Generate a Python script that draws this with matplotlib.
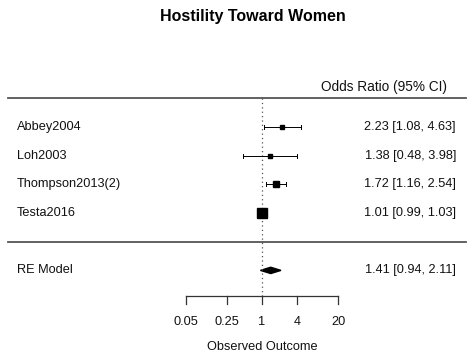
import numpy as np
import matplotlib.pyplot as plt

plt.rcParams['font.family'] = ['Liberation Sans', 'DejaVu Sans']

# study data (odds ratios with 95% CI)
studies = ['Abbey2004', 'Loh2003', 'Thompson2013(2)', 'Testa2016']
odds = [2.23, 1.38, 1.72, 1.01]
ci_lo = [1.08, 0.48, 1.16, 0.99]
ci_hi = [4.63, 3.98, 2.54, 1.03]
marker_sizes = [3.2, 2.2, 4.6, 6.6]   # weight-proportional squares

re_est, re_lo, re_hi = 1.41, 0.94, 2.11

tick_vals = [0.05, 0.25, 1, 4, 20]
tick_labels = ['0.05', '0.25', '1', '4', '20']

rows = [4, 3, 2, 1]
re_row = -1

fig = plt.figure(figsize=(4.74, 3.6), dpi=100)
ax = fig.add_axes([0, 0, 1, 1])
ax.set_xlim(-262 / 25.4, 212 / 25.4)
ax.set_ylim(1 - 147 / 28.7, 1 + 213 / 28.7)
ax.axis('off')

# x positions of text columns in data units (log odds)
x_left = (17 - 262) / 25.4
x_right = (456 - 262) / 25.4
x_line0 = (8 - 262) / 25.4
x_line1 = (466 - 262) / 25.4
axis_row = -1.89

fs = 9.2

# header / separator lines
ax.plot([x_line0, x_line1], [5, 5], color='#555555', lw=1.3)
ax.plot([x_line0, x_line1], [0, 0], color='#555555', lw=1.3)

# reference line at OR = 1
ax.plot([0, 0], [5, axis_row], color='#555555', lw=0.9, ls=(0, (1, 2.5)))

# studies
for name, r, o, lo, hi, ms in zip(studies, rows, odds, ci_lo, ci_hi, marker_sizes):
    ax.plot([np.log(lo), np.log(hi)], [r, r], color='black', lw=0.7)
    for e in (lo, hi):
        ax.plot([np.log(e), np.log(e)], [r - 0.07, r + 0.07], color='black', lw=0.7)
    ax.plot(np.log(o), r, marker='s', ms=ms, color='black', mec='black')
    ax.text(x_left, r, name, ha='left', va='center', fontsize=fs, color='#111111')
    ax.text(x_right, r, f'{o:.2f} [{lo:.2f}, {hi:.2f}]', ha='right', va='center',
            fontsize=fs, color='#111111')

# RE model diamond
dx = [np.log(re_lo), np.log(re_est), np.log(re_hi), np.log(re_est)]
dy = [re_row, re_row + 0.11, re_row, re_row - 0.11]
ax.fill(dx, dy, color='black')
ax.text(x_left, re_row, 'RE Model', ha='left', va='center', fontsize=fs, color='#111111')
ax.text(x_right, re_row, f'{re_est:.2f} [{re_lo:.2f}, {re_hi:.2f}]', ha='right',
        va='center', fontsize=fs, color='#111111')

# header text
ax.text((447 - 262) / 25.4, 5.4, 'Odds Ratio (95% CI)', ha='right', va='center',
        fontsize=fs + 0.6, color='#111111')

# x axis
tl = np.log(tick_vals)
ax.plot([tl[0], tl[-1]], [axis_row, axis_row], color='#333333', lw=0.9)
for t, lab in zip(tl, tick_labels):
    ax.plot([t, t], [axis_row, axis_row - 0.27], color='#333333', lw=0.9)
    ax.text(t, axis_row - 0.9, lab, ha='center', va='center', fontsize=fs, color='#111111')
ax.text(0, axis_row - 1.77, 'Observed Outcome', ha='center', va='center', fontsize=fs,
        color='#111111')

fig.text(253 / 474, 1 - 17 / 360, 'Hostility Toward Women', ha='center', va='center',
         fontsize=11.5, fontweight='bold')

fig.savefig('out.png', dpi=100)
